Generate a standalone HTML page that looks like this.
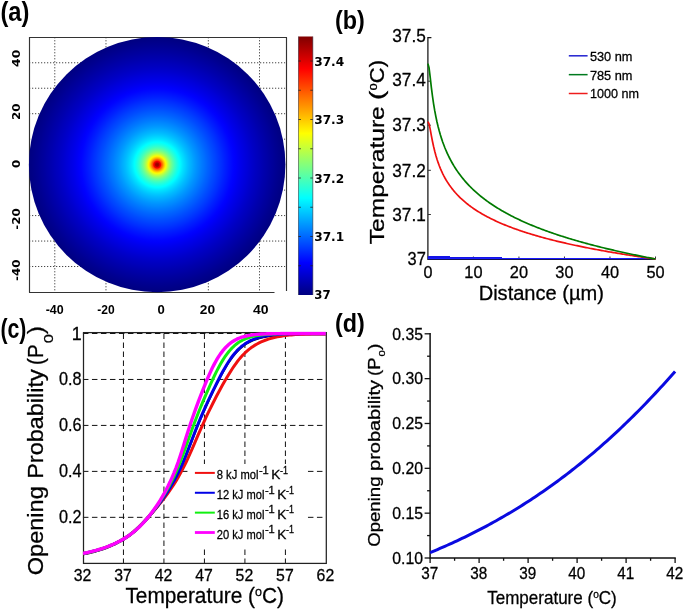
<!DOCTYPE html>
<html lang="en"><head><meta charset="utf-8"><title>Figure</title>
<style>html,body{margin:0;padding:0;background:#fff;}body{width:685px;height:610px;overflow:hidden;font-family:"Liberation Sans", sans-serif;}svg{display:block;}text{stroke:#000;stroke-width:.28px;}text[font-weight=bold]{stroke-width:0;}</style>
</head><body>
<svg width="685" height="610" viewBox="0 0 685 610" font-family='"Liberation Sans", sans-serif'>
<rect width="685" height="610" fill="#fff"/>
<defs><radialGradient id="hg" cx="50%" cy="50%" r="50%">
<stop offset="0.000%" stop-color="#930000"/>
<stop offset="0.005%" stop-color="#930000"/>
<stop offset="0.023%" stop-color="#930000"/>
<stop offset="0.056%" stop-color="#930000"/>
<stop offset="0.106%" stop-color="#930000"/>
<stop offset="0.173%" stop-color="#940000"/>
<stop offset="0.259%" stop-color="#960000"/>
<stop offset="0.363%" stop-color="#980000"/>
<stop offset="0.487%" stop-color="#9a0000"/>
<stop offset="0.631%" stop-color="#9e0000"/>
<stop offset="0.796%" stop-color="#a20000"/>
<stop offset="0.981%" stop-color="#a50000"/>
<stop offset="1.188%" stop-color="#a60000"/>
<stop offset="1.417%" stop-color="#af0000"/>
<stop offset="1.668%" stop-color="#c30000"/>
<stop offset="1.941%" stop-color="#da0000"/>
<stop offset="2.237%" stop-color="#ea0000"/>
<stop offset="2.557%" stop-color="#f20000"/>
<stop offset="2.899%" stop-color="#ff1300"/>
<stop offset="3.265%" stop-color="#ff3b00"/>
<stop offset="3.655%" stop-color="#ff5d00"/>
<stop offset="4.070%" stop-color="#ff6c00"/>
<stop offset="4.508%" stop-color="#ff8b00"/>
<stop offset="4.971%" stop-color="#ffa800"/>
<stop offset="5.459%" stop-color="#ffc300"/>
<stop offset="5.972%" stop-color="#ffdc00"/>
<stop offset="6.510%" stop-color="#fff400"/>
<stop offset="7.074%" stop-color="#f1ff0e"/>
<stop offset="7.663%" stop-color="#d9ff26"/>
<stop offset="8.278%" stop-color="#c3ff3c"/>
<stop offset="8.919%" stop-color="#adff52"/>
<stop offset="9.587%" stop-color="#99ff66"/>
<stop offset="10.280%" stop-color="#86ff79"/>
<stop offset="11.000%" stop-color="#74ff8b"/>
<stop offset="11.747%" stop-color="#63ff9c"/>
<stop offset="12.520%" stop-color="#53ffac"/>
<stop offset="13.321%" stop-color="#43ffbc"/>
<stop offset="14.148%" stop-color="#34ffcb"/>
<stop offset="15.003%" stop-color="#26ffd9"/>
<stop offset="15.886%" stop-color="#18ffe7"/>
<stop offset="16.796%" stop-color="#0cfff3"/>
<stop offset="17.733%" stop-color="#00ffff"/>
<stop offset="18.699%" stop-color="#00f4ff"/>
<stop offset="19.692%" stop-color="#00e8ff"/>
<stop offset="20.714%" stop-color="#00deff"/>
<stop offset="21.764%" stop-color="#00d5ff"/>
<stop offset="22.842%" stop-color="#00cbff"/>
<stop offset="23.949%" stop-color="#00c2ff"/>
<stop offset="25.084%" stop-color="#00b9ff"/>
<stop offset="26.248%" stop-color="#00b1ff"/>
<stop offset="27.441%" stop-color="#00a9ff"/>
<stop offset="28.663%" stop-color="#00a0ff"/>
<stop offset="29.914%" stop-color="#0098ff"/>
<stop offset="31.194%" stop-color="#0090ff"/>
<stop offset="32.504%" stop-color="#0089ff"/>
<stop offset="33.843%" stop-color="#0081ff"/>
<stop offset="35.211%" stop-color="#0079ff"/>
<stop offset="36.609%" stop-color="#0072ff"/>
<stop offset="38.037%" stop-color="#006aff"/>
<stop offset="39.495%" stop-color="#0062ff"/>
<stop offset="40.983%" stop-color="#005bff"/>
<stop offset="42.500%" stop-color="#0053ff"/>
<stop offset="44.048%" stop-color="#004bff"/>
<stop offset="45.626%" stop-color="#0044ff"/>
<stop offset="47.235%" stop-color="#003cff"/>
<stop offset="48.874%" stop-color="#0034ff"/>
<stop offset="50.543%" stop-color="#002cff"/>
<stop offset="52.243%" stop-color="#0023ff"/>
<stop offset="53.974%" stop-color="#001bff"/>
<stop offset="55.736%" stop-color="#0013ff"/>
<stop offset="57.528%" stop-color="#000bff"/>
<stop offset="59.352%" stop-color="#0003ff"/>
<stop offset="61.207%" stop-color="#0000fb"/>
<stop offset="63.092%" stop-color="#0000f3"/>
<stop offset="65.009%" stop-color="#0000eb"/>
<stop offset="66.958%" stop-color="#0000e4"/>
<stop offset="68.938%" stop-color="#0000dd"/>
<stop offset="70.949%" stop-color="#0000d6"/>
<stop offset="72.992%" stop-color="#0000ce"/>
<stop offset="75.066%" stop-color="#0000c7"/>
<stop offset="77.173%" stop-color="#0000c0"/>
<stop offset="79.311%" stop-color="#0000ba"/>
<stop offset="81.481%" stop-color="#0000b3"/>
<stop offset="83.683%" stop-color="#0000ac"/>
<stop offset="85.917%" stop-color="#0000a6"/>
<stop offset="88.184%" stop-color="#00009f"/>
<stop offset="90.482%" stop-color="#000099"/>
<stop offset="92.813%" stop-color="#000092"/>
<stop offset="95.176%" stop-color="#00008c"/>
<stop offset="97.572%" stop-color="#000086"/>
<stop offset="100.000%" stop-color="#000080"/>
</radialGradient>
<linearGradient id="cb" x1="0" y1="1" x2="0" y2="0">
<stop offset="0.00%" stop-color="#000080"/>
<stop offset="1.56%" stop-color="#00008f"/>
<stop offset="3.12%" stop-color="#00009f"/>
<stop offset="4.69%" stop-color="#0000af"/>
<stop offset="6.25%" stop-color="#0000bf"/>
<stop offset="7.81%" stop-color="#0000cf"/>
<stop offset="9.38%" stop-color="#0000df"/>
<stop offset="10.94%" stop-color="#0000ef"/>
<stop offset="12.50%" stop-color="#0000ff"/>
<stop offset="14.06%" stop-color="#0010ff"/>
<stop offset="15.62%" stop-color="#0020ff"/>
<stop offset="17.19%" stop-color="#0030ff"/>
<stop offset="18.75%" stop-color="#0040ff"/>
<stop offset="20.31%" stop-color="#0050ff"/>
<stop offset="21.88%" stop-color="#0060ff"/>
<stop offset="23.44%" stop-color="#0070ff"/>
<stop offset="25.00%" stop-color="#0080ff"/>
<stop offset="26.56%" stop-color="#008fff"/>
<stop offset="28.12%" stop-color="#009fff"/>
<stop offset="29.69%" stop-color="#00afff"/>
<stop offset="31.25%" stop-color="#00bfff"/>
<stop offset="32.81%" stop-color="#00cfff"/>
<stop offset="34.38%" stop-color="#00dfff"/>
<stop offset="35.94%" stop-color="#00efff"/>
<stop offset="37.50%" stop-color="#00ffff"/>
<stop offset="39.06%" stop-color="#10ffef"/>
<stop offset="40.62%" stop-color="#20ffdf"/>
<stop offset="42.19%" stop-color="#30ffcf"/>
<stop offset="43.75%" stop-color="#40ffbf"/>
<stop offset="45.31%" stop-color="#50ffaf"/>
<stop offset="46.88%" stop-color="#60ff9f"/>
<stop offset="48.44%" stop-color="#70ff8f"/>
<stop offset="50.00%" stop-color="#80ff80"/>
<stop offset="51.56%" stop-color="#8fff70"/>
<stop offset="53.12%" stop-color="#9fff60"/>
<stop offset="54.69%" stop-color="#afff50"/>
<stop offset="56.25%" stop-color="#bfff40"/>
<stop offset="57.81%" stop-color="#cfff30"/>
<stop offset="59.38%" stop-color="#dfff20"/>
<stop offset="60.94%" stop-color="#efff10"/>
<stop offset="62.50%" stop-color="#ffff00"/>
<stop offset="64.06%" stop-color="#ffef00"/>
<stop offset="65.62%" stop-color="#ffdf00"/>
<stop offset="67.19%" stop-color="#ffcf00"/>
<stop offset="68.75%" stop-color="#ffbf00"/>
<stop offset="70.31%" stop-color="#ffaf00"/>
<stop offset="71.88%" stop-color="#ff9f00"/>
<stop offset="73.44%" stop-color="#ff8f00"/>
<stop offset="75.00%" stop-color="#ff8000"/>
<stop offset="76.56%" stop-color="#ff7000"/>
<stop offset="78.12%" stop-color="#ff6000"/>
<stop offset="79.69%" stop-color="#ff5000"/>
<stop offset="81.25%" stop-color="#ff4000"/>
<stop offset="82.81%" stop-color="#ff3000"/>
<stop offset="84.38%" stop-color="#ff2000"/>
<stop offset="85.94%" stop-color="#ff1000"/>
<stop offset="87.50%" stop-color="#ff0000"/>
<stop offset="89.06%" stop-color="#ef0000"/>
<stop offset="90.62%" stop-color="#df0000"/>
<stop offset="92.19%" stop-color="#cf0000"/>
<stop offset="93.75%" stop-color="#bf0000"/>
<stop offset="95.31%" stop-color="#af0000"/>
<stop offset="96.88%" stop-color="#9f0000"/>
<stop offset="98.44%" stop-color="#8f0000"/>
<stop offset="100.00%" stop-color="#800000"/>
</linearGradient></defs>
<line x1="54.79" y1="37.3" x2="54.79" y2="292.0" stroke="#1a1a1a" stroke-width="1" stroke-dasharray="1 2"/>
<line x1="105.97" y1="37.3" x2="105.97" y2="292.0" stroke="#1a1a1a" stroke-width="1" stroke-dasharray="1 2"/>
<line x1="157.15" y1="37.3" x2="157.15" y2="292.0" stroke="#1a1a1a" stroke-width="1" stroke-dasharray="1 2"/>
<line x1="208.33" y1="37.3" x2="208.33" y2="292.0" stroke="#1a1a1a" stroke-width="1" stroke-dasharray="1 2"/>
<line x1="259.51" y1="37.3" x2="259.51" y2="292.0" stroke="#1a1a1a" stroke-width="1" stroke-dasharray="1 2"/>
<line x1="29.2" y1="266.53" x2="285.1" y2="266.53" stroke="#1a1a1a" stroke-width="1" stroke-dasharray="1 2"/>
<line x1="29.2" y1="241.06" x2="285.1" y2="241.06" stroke="#1a1a1a" stroke-width="1" stroke-dasharray="1 2"/>
<line x1="29.2" y1="215.59" x2="285.1" y2="215.59" stroke="#1a1a1a" stroke-width="1" stroke-dasharray="1 2"/>
<line x1="29.2" y1="190.12" x2="285.1" y2="190.12" stroke="#1a1a1a" stroke-width="1" stroke-dasharray="1 2"/>
<line x1="29.2" y1="164.65" x2="285.1" y2="164.65" stroke="#1a1a1a" stroke-width="1" stroke-dasharray="1 2"/>
<line x1="29.2" y1="139.18" x2="285.1" y2="139.18" stroke="#1a1a1a" stroke-width="1" stroke-dasharray="1 2"/>
<line x1="29.2" y1="113.71" x2="285.1" y2="113.71" stroke="#1a1a1a" stroke-width="1" stroke-dasharray="1 2"/>
<line x1="29.2" y1="88.24" x2="285.1" y2="88.24" stroke="#1a1a1a" stroke-width="1" stroke-dasharray="1 2"/>
<line x1="29.2" y1="62.77" x2="285.1" y2="62.77" stroke="#1a1a1a" stroke-width="1" stroke-dasharray="1 2"/>
<path d="M29.5 292.5 V37.5 H287" fill="none" stroke="#333" stroke-width="1.15"/>
<line x1="286.5" y1="37.5" x2="286.5" y2="291" stroke="#333" stroke-width="1.15"/>
<line x1="29" y1="292.5" x2="274.5" y2="292.5" stroke="#333" stroke-width="1.15"/>
<ellipse cx="157.15" cy="164.65" rx="128.25" ry="127.65" fill="url(#hg)"/>
<text x="54.70" y="313.60" font-size="13.5" text-anchor="middle" font-weight="bold" fill="#000" textLength="18.00" lengthAdjust="spacingAndGlyphs" >-40</text>
<text x="105.90" y="313.60" font-size="13.5" text-anchor="middle" font-weight="bold" fill="#000" textLength="17.40" lengthAdjust="spacingAndGlyphs" >-20</text>
<text x="161.10" y="313.60" font-size="13.5" text-anchor="middle" font-weight="bold" fill="#000" textLength="7.30" lengthAdjust="spacingAndGlyphs" >0</text>
<text x="207.40" y="313.60" font-size="13.5" text-anchor="middle" font-weight="bold" fill="#000" textLength="15.30" lengthAdjust="spacingAndGlyphs" >20</text>
<text x="260.70" y="313.60" font-size="13.5" text-anchor="middle" font-weight="bold" fill="#000" textLength="15.60" lengthAdjust="spacingAndGlyphs" >40</text>
<text x="19.60" y="58.20" font-size="10.4" text-anchor="middle" font-weight="bold" fill="#000" textLength="17.40" lengthAdjust="spacingAndGlyphs" transform="rotate(-90 19.60 58.20)" font-family='"DejaVu Sans", "Liberation Sans", sans-serif'>40</text>
<text x="19.60" y="111.70" font-size="10.4" text-anchor="middle" font-weight="bold" fill="#000" textLength="16.60" lengthAdjust="spacingAndGlyphs" transform="rotate(-90 19.60 111.70)" font-family='"DejaVu Sans", "Liberation Sans", sans-serif'>20</text>
<text x="19.60" y="164.00" font-size="10.4" text-anchor="middle" font-weight="bold" fill="#000" textLength="8.20" lengthAdjust="spacingAndGlyphs" transform="rotate(-90 19.60 164.00)" font-family='"DejaVu Sans", "Liberation Sans", sans-serif'>0</text>
<text x="19.60" y="219.00" font-size="10.4" text-anchor="middle" font-weight="bold" fill="#000" textLength="21.40" lengthAdjust="spacingAndGlyphs" transform="rotate(-90 19.60 219.00)" font-family='"DejaVu Sans", "Liberation Sans", sans-serif'>-20</text>
<text x="19.60" y="270.30" font-size="10.4" text-anchor="middle" font-weight="bold" fill="#000" textLength="21.40" lengthAdjust="spacingAndGlyphs" transform="rotate(-90 19.60 270.30)" font-family='"DejaVu Sans", "Liberation Sans", sans-serif'>-40</text>
<rect x="298.4" y="36.5" width="14.40" height="258.50" fill="url(#cb)"/>
<line x1="298.4" y1="36.5" x2="298.4" y2="295.0" stroke="#223" stroke-width="0.8" opacity="0.7"/>
<line x1="312.8" y1="36.5" x2="312.8" y2="295.0" stroke="#223" stroke-width="0.8" opacity="0.7"/>
<line x1="298.4" y1="265.75" x2="300.9" y2="265.75" stroke="#222" stroke-width="0.8"/>
<line x1="310.3" y1="265.75" x2="312.8" y2="265.75" stroke="#222" stroke-width="0.8"/>
<line x1="298.4" y1="236.50" x2="300.9" y2="236.50" stroke="#222" stroke-width="0.8"/>
<line x1="310.3" y1="236.50" x2="312.8" y2="236.50" stroke="#222" stroke-width="0.8"/>
<line x1="298.4" y1="207.25" x2="300.9" y2="207.25" stroke="#222" stroke-width="0.8"/>
<line x1="310.3" y1="207.25" x2="312.8" y2="207.25" stroke="#222" stroke-width="0.8"/>
<line x1="298.4" y1="178.00" x2="300.9" y2="178.00" stroke="#222" stroke-width="0.8"/>
<line x1="310.3" y1="178.00" x2="312.8" y2="178.00" stroke="#222" stroke-width="0.8"/>
<line x1="298.4" y1="148.75" x2="300.9" y2="148.75" stroke="#222" stroke-width="0.8"/>
<line x1="310.3" y1="148.75" x2="312.8" y2="148.75" stroke="#222" stroke-width="0.8"/>
<line x1="298.4" y1="119.50" x2="300.9" y2="119.50" stroke="#222" stroke-width="0.8"/>
<line x1="310.3" y1="119.50" x2="312.8" y2="119.50" stroke="#222" stroke-width="0.8"/>
<line x1="298.4" y1="90.25" x2="300.9" y2="90.25" stroke="#222" stroke-width="0.8"/>
<line x1="310.3" y1="90.25" x2="312.8" y2="90.25" stroke="#222" stroke-width="0.8"/>
<line x1="298.4" y1="61.00" x2="300.9" y2="61.00" stroke="#222" stroke-width="0.8"/>
<line x1="310.3" y1="61.00" x2="312.8" y2="61.00" stroke="#222" stroke-width="0.8"/>
<text x="314.20" y="298.60" font-size="12" text-anchor="start" font-weight="bold" fill="#000" textLength="16.40" lengthAdjust="spacingAndGlyphs" font-family='"DejaVu Sans", "Liberation Sans", sans-serif'>37</text>
<text x="314.20" y="241.40" font-size="12" text-anchor="start" font-weight="bold" fill="#000" textLength="30.00" lengthAdjust="spacingAndGlyphs" font-family='"DejaVu Sans", "Liberation Sans", sans-serif'>37.1</text>
<text x="314.20" y="182.90" font-size="12" text-anchor="start" font-weight="bold" fill="#000" textLength="30.00" lengthAdjust="spacingAndGlyphs" font-family='"DejaVu Sans", "Liberation Sans", sans-serif'>37.2</text>
<text x="314.20" y="124.40" font-size="12" text-anchor="start" font-weight="bold" fill="#000" textLength="30.00" lengthAdjust="spacingAndGlyphs" font-family='"DejaVu Sans", "Liberation Sans", sans-serif'>37.3</text>
<text x="314.20" y="65.90" font-size="12" text-anchor="start" font-weight="bold" fill="#000" textLength="30.00" lengthAdjust="spacingAndGlyphs" font-family='"DejaVu Sans", "Liberation Sans", sans-serif'>37.4</text>
<text x="0.40" y="21.30" font-size="27.3" text-anchor="start" font-weight="bold" fill="#000" textLength="29.00" lengthAdjust="spacingAndGlyphs" >(a)</text>
<path d="M431.4 37.5 H427.9 V259.3 H655.5" fill="none" stroke="#151515" stroke-width="1.25"/>
<line x1="427.9" y1="214.5" x2="430.9" y2="214.5" stroke="#333" stroke-width="1"/>
<line x1="427.9" y1="170.3" x2="430.9" y2="170.3" stroke="#333" stroke-width="1"/>
<line x1="427.9" y1="125.2" x2="430.9" y2="125.2" stroke="#333" stroke-width="1"/>
<line x1="427.9" y1="81.2" x2="430.9" y2="81.2" stroke="#333" stroke-width="1"/>
<line x1="473.42" y1="259.0" x2="473.42" y2="256.5" stroke="#333" stroke-width="1"/>
<line x1="518.94" y1="259.0" x2="518.94" y2="256.5" stroke="#333" stroke-width="1"/>
<line x1="564.46" y1="259.0" x2="564.46" y2="256.5" stroke="#333" stroke-width="1"/>
<line x1="609.98" y1="259.0" x2="609.98" y2="256.5" stroke="#333" stroke-width="1"/>
<line x1="655.50" y1="259.0" x2="655.50" y2="256.5" stroke="#333" stroke-width="1"/>
<path d="M427.9 257.1 H450" stroke="#1414e6" stroke-width="2.2" fill="none"/>
<path d="M427.9 257.8 H502" stroke="#1414e6" stroke-width="1.8" fill="none"/>
<path d="M427.9 258.6 H655.5" stroke="#1a1aff" stroke-width="1.4" fill="none"/>
<path d="M427.90 121.61 L429.04 123.83 L430.18 129.15 L431.31 135.32 L432.45 141.22 L433.59 146.53 L434.73 151.26 L435.87 155.48 L437.00 159.25 L438.14 162.65 L439.28 165.75 L440.42 168.59 L441.56 171.20 L442.69 173.62 L443.83 175.87 L444.97 177.98 L446.11 179.96 L447.25 181.82 L448.38 183.58 L449.52 185.25 L450.66 186.84 L451.80 188.35 L452.94 189.79 L454.07 191.17 L455.21 192.50 L456.35 193.77 L457.49 194.99 L458.63 196.17 L459.76 197.30 L460.90 198.40 L462.04 199.45 L463.18 200.48 L464.32 201.47 L465.45 202.43 L466.59 203.37 L467.73 204.27 L468.87 205.16 L470.01 206.01 L471.14 206.85 L472.28 207.66 L473.42 208.45 L474.56 209.23 L475.70 209.98 L476.83 210.72 L477.97 211.44 L479.11 212.15 L480.25 212.83 L481.39 213.51 L482.52 214.17 L483.66 214.82 L484.80 215.45 L485.94 216.07 L487.08 216.68 L488.21 217.28 L489.35 217.86 L490.49 218.44 L491.63 219.00 L492.77 219.56 L493.90 220.11 L495.04 220.64 L496.18 221.17 L497.32 221.69 L498.46 222.20 L499.59 222.70 L500.73 223.20 L501.87 223.68 L503.01 224.16 L504.15 224.63 L505.28 225.10 L506.42 225.56 L507.56 226.01 L508.70 226.46 L509.84 226.89 L510.97 227.33 L512.11 227.76 L513.25 228.18 L514.39 228.59 L515.53 229.00 L516.66 229.41 L517.80 229.81 L518.94 230.20 L520.08 230.59 L521.22 230.98 L522.35 231.36 L523.49 231.74 L524.63 232.11 L525.77 232.48 L526.91 232.84 L528.04 233.20 L529.18 233.55 L530.32 233.90 L531.46 234.25 L532.60 234.59 L533.73 234.93 L534.87 235.27 L536.01 235.60 L537.15 235.93 L538.29 236.26 L539.42 236.58 L540.56 236.90 L541.70 237.21 L542.84 237.53 L543.98 237.84 L545.11 238.14 L546.25 238.45 L547.39 238.75 L548.53 239.05 L549.67 239.34 L550.80 239.63 L551.94 239.92 L553.08 240.21 L554.22 240.49 L555.36 240.78 L556.49 241.06 L557.63 241.33 L558.77 241.61 L559.91 241.88 L561.05 242.15 L562.18 242.42 L563.32 242.68 L564.46 242.94 L565.60 243.20 L566.74 243.46 L567.87 243.72 L569.01 243.97 L570.15 244.23 L571.29 244.48 L572.43 244.73 L573.56 244.97 L574.70 245.22 L575.84 245.46 L576.98 245.70 L578.12 245.94 L579.25 246.18 L580.39 246.41 L581.53 246.65 L582.67 246.88 L583.81 247.11 L584.94 247.34 L586.08 247.56 L587.22 247.79 L588.36 248.01 L589.50 248.23 L590.63 248.46 L591.77 248.67 L592.91 248.89 L594.05 249.11 L595.19 249.32 L596.32 249.54 L597.46 249.75 L598.60 249.96 L599.74 250.17 L600.88 250.37 L602.01 250.58 L603.15 250.78 L604.29 250.99 L605.43 251.19 L606.57 251.39 L607.70 251.59 L608.84 251.79 L609.98 251.99 L611.12 252.18 L612.26 252.38 L613.39 252.57 L614.53 252.76 L615.67 252.95 L616.81 253.14 L617.95 253.33 L619.08 253.52 L620.22 253.71 L621.36 253.89 L622.50 254.08 L623.64 254.26 L624.77 254.44 L625.91 254.62 L627.05 254.80 L628.19 254.98 L629.33 255.16 L630.46 255.34 L631.60 255.51 L632.74 255.69 L633.88 255.86 L635.02 256.04 L636.15 256.21 L637.29 256.38 L638.43 256.55 L639.57 256.72 L640.71 256.89 L641.84 257.05 L642.98 257.22 L644.12 257.39 L645.26 257.55 L646.40 257.72 L647.53 257.88 L648.67 258.04 L649.81 258.20 L650.95 258.36 L652.09 258.52 L653.22 258.68 L654.36 258.84 L655.50 259.00" stroke="#f01010" stroke-width="1.7" fill="none" stroke-linejoin="round"/>
<path d="M427.90 63.60 L429.04 67.80 L430.18 77.10 L431.31 87.03 L432.45 96.01 L433.59 103.84 L434.73 110.66 L435.87 116.65 L437.00 121.97 L438.14 126.74 L439.28 131.06 L440.42 135.00 L441.56 138.62 L442.69 141.97 L443.83 145.08 L444.97 147.99 L446.11 150.72 L447.25 153.28 L448.38 155.71 L449.52 158.00 L450.66 160.18 L451.80 162.26 L452.94 164.24 L454.07 166.14 L455.21 167.96 L456.35 169.70 L457.49 171.38 L458.63 172.99 L459.76 174.54 L460.90 176.05 L462.04 177.50 L463.18 178.90 L464.32 180.26 L465.45 181.58 L466.59 182.86 L467.73 184.10 L468.87 185.31 L470.01 186.48 L471.14 187.63 L472.28 188.74 L473.42 189.83 L474.56 190.89 L475.70 191.92 L476.83 192.93 L477.97 193.92 L479.11 194.88 L480.25 195.82 L481.39 196.75 L482.52 197.65 L483.66 198.54 L484.80 199.40 L485.94 200.26 L487.08 201.09 L488.21 201.91 L489.35 202.71 L490.49 203.50 L491.63 204.27 L492.77 205.03 L493.90 205.78 L495.04 206.51 L496.18 207.24 L497.32 207.95 L498.46 208.65 L499.59 209.33 L500.73 210.01 L501.87 210.68 L503.01 211.33 L504.15 211.98 L505.28 212.61 L506.42 213.24 L507.56 213.86 L508.70 214.47 L509.84 215.07 L510.97 215.66 L512.11 216.25 L513.25 216.83 L514.39 217.39 L515.53 217.96 L516.66 218.51 L517.80 219.06 L518.94 219.60 L520.08 220.13 L521.22 220.66 L522.35 221.18 L523.49 221.70 L524.63 222.21 L525.77 222.71 L526.91 223.21 L528.04 223.70 L529.18 224.18 L530.32 224.66 L531.46 225.14 L532.60 225.61 L533.73 226.07 L534.87 226.53 L536.01 226.99 L537.15 227.44 L538.29 227.88 L539.42 228.32 L540.56 228.76 L541.70 229.19 L542.84 229.62 L543.98 230.04 L545.11 230.46 L546.25 230.88 L547.39 231.29 L548.53 231.70 L549.67 232.10 L550.80 232.50 L551.94 232.90 L553.08 233.29 L554.22 233.68 L555.36 234.07 L556.49 234.45 L557.63 234.83 L558.77 235.20 L559.91 235.57 L561.05 235.94 L562.18 236.31 L563.32 236.67 L564.46 237.03 L565.60 237.39 L566.74 237.74 L567.87 238.09 L569.01 238.44 L570.15 238.79 L571.29 239.13 L572.43 239.47 L573.56 239.81 L574.70 240.14 L575.84 240.47 L576.98 240.80 L578.12 241.13 L579.25 241.46 L580.39 241.78 L581.53 242.10 L582.67 242.41 L583.81 242.73 L584.94 243.04 L586.08 243.35 L587.22 243.66 L588.36 243.97 L589.50 244.27 L590.63 244.57 L591.77 244.87 L592.91 245.17 L594.05 245.47 L595.19 245.76 L596.32 246.05 L597.46 246.34 L598.60 246.63 L599.74 246.91 L600.88 247.20 L602.01 247.48 L603.15 247.76 L604.29 248.04 L605.43 248.31 L606.57 248.59 L607.70 248.86 L608.84 249.13 L609.98 249.40 L611.12 249.67 L612.26 249.94 L613.39 250.20 L614.53 250.47 L615.67 250.73 L616.81 250.99 L617.95 251.24 L619.08 251.50 L620.22 251.76 L621.36 252.01 L622.50 252.26 L623.64 252.51 L624.77 252.76 L625.91 253.01 L627.05 253.26 L628.19 253.50 L629.33 253.75 L630.46 253.99 L631.60 254.23 L632.74 254.47 L633.88 254.71 L635.02 254.94 L636.15 255.18 L637.29 255.41 L638.43 255.65 L639.57 255.88 L640.71 256.11 L641.84 256.34 L642.98 256.57 L644.12 256.79 L645.26 257.02 L646.40 257.24 L647.53 257.47 L648.67 257.69 L649.81 257.91 L650.95 258.13 L652.09 258.35 L653.22 258.57 L654.36 258.78 L655.50 259.00" stroke="#007a00" stroke-width="1.7" fill="none" stroke-linejoin="round"/>
<text x="425.80" y="265.05" font-size="17.6" text-anchor="end" font-weight="normal" fill="#000" textLength="18.30" lengthAdjust="spacingAndGlyphs" >37</text>
<text x="425.80" y="220.75" font-size="17.6" text-anchor="end" font-weight="normal" fill="#000" textLength="33.50" lengthAdjust="spacingAndGlyphs" >37.1</text>
<text x="425.80" y="176.55" font-size="17.6" text-anchor="end" font-weight="normal" fill="#000" textLength="33.50" lengthAdjust="spacingAndGlyphs" >37.2</text>
<text x="425.80" y="131.25" font-size="17.6" text-anchor="end" font-weight="normal" fill="#000" textLength="33.50" lengthAdjust="spacingAndGlyphs" >37.3</text>
<text x="425.80" y="86.45" font-size="17.6" text-anchor="end" font-weight="normal" fill="#000" textLength="33.50" lengthAdjust="spacingAndGlyphs" >37.4</text>
<text x="425.80" y="42.25" font-size="17.6" text-anchor="end" font-weight="normal" fill="#000" textLength="33.50" lengthAdjust="spacingAndGlyphs" >37.5</text>
<text x="427.90" y="277.70" font-size="16.8" text-anchor="middle" font-weight="normal" fill="#000" textLength="9.00" lengthAdjust="spacingAndGlyphs" >0</text>
<text x="473.42" y="277.70" font-size="16.8" text-anchor="middle" font-weight="normal" fill="#000" textLength="18.20" lengthAdjust="spacingAndGlyphs" >10</text>
<text x="518.94" y="277.70" font-size="16.8" text-anchor="middle" font-weight="normal" fill="#000" textLength="18.20" lengthAdjust="spacingAndGlyphs" >20</text>
<text x="564.46" y="277.70" font-size="16.8" text-anchor="middle" font-weight="normal" fill="#000" textLength="18.20" lengthAdjust="spacingAndGlyphs" >30</text>
<text x="609.98" y="277.70" font-size="16.8" text-anchor="middle" font-weight="normal" fill="#000" textLength="18.20" lengthAdjust="spacingAndGlyphs" >40</text>
<text x="655.50" y="277.70" font-size="16.8" text-anchor="middle" font-weight="normal" fill="#000" textLength="18.20" lengthAdjust="spacingAndGlyphs" >50</text>
<text x="541.30" y="300.20" font-size="20" text-anchor="middle" font-weight="normal" fill="#000" textLength="125.30" lengthAdjust="spacingAndGlyphs" >Distance (µm)</text>
<text transform="translate(383.90,0) rotate(-90)" font-size="19.7" font-weight="normal" ><tspan x="-244.30" y="0" textLength="138.10" lengthAdjust="spacingAndGlyphs">Temperature</tspan><tspan x="-100.00" y="0" textLength="9.40" lengthAdjust="spacingAndGlyphs">(</tspan><tspan x="-90.60" y="-7.3" font-size="12.5" textLength="7.20" lengthAdjust="spacingAndGlyphs">o</tspan><tspan x="-83.20" y="0" textLength="23.20" lengthAdjust="spacingAndGlyphs">C)</tspan></text>
<line x1="568.8" y1="55.80" x2="587.6" y2="55.80" stroke="#2222d0" stroke-width="1.5"/>
<text x="589.90" y="60.70" font-size="13.4" text-anchor="start" font-weight="normal" fill="#000" textLength="42.60" lengthAdjust="spacingAndGlyphs" >530 nm</text>
<line x1="568.8" y1="74.65" x2="587.6" y2="74.65" stroke="#007a1e" stroke-width="1.5"/>
<text x="589.90" y="79.55" font-size="13.4" text-anchor="start" font-weight="normal" fill="#000" textLength="42.60" lengthAdjust="spacingAndGlyphs" >785 nm</text>
<line x1="568.8" y1="93.50" x2="587.6" y2="93.50" stroke="#ee1c1c" stroke-width="1.5"/>
<text x="589.90" y="98.40" font-size="13.4" text-anchor="start" font-weight="normal" fill="#000" textLength="49.00" lengthAdjust="spacingAndGlyphs" >1000 nm</text>
<text x="334.90" y="28.60" font-size="26.5" text-anchor="start" font-weight="bold" fill="#000" textLength="29.80" lengthAdjust="spacingAndGlyphs" >(b)</text>
<line x1="123.44" y1="333.5" x2="123.44" y2="563.3" stroke="#111" stroke-width="1" stroke-dasharray="5.5 3.5"/>
<line x1="163.93" y1="333.5" x2="163.93" y2="563.3" stroke="#111" stroke-width="1" stroke-dasharray="5.5 3.5"/>
<line x1="204.43" y1="333.5" x2="204.43" y2="563.3" stroke="#111" stroke-width="1" stroke-dasharray="5.5 3.5"/>
<line x1="244.92" y1="333.5" x2="244.92" y2="563.3" stroke="#111" stroke-width="1" stroke-dasharray="5.5 3.5"/>
<line x1="285.41" y1="333.5" x2="285.41" y2="563.3" stroke="#111" stroke-width="1" stroke-dasharray="5.5 3.5"/>
<line x1="82.95" y1="517.34" x2="325.9" y2="517.34" stroke="#111" stroke-width="1" stroke-dasharray="5.5 3.5"/>
<line x1="82.95" y1="471.38" x2="325.9" y2="471.38" stroke="#111" stroke-width="1" stroke-dasharray="5.5 3.5"/>
<line x1="82.95" y1="425.42" x2="325.9" y2="425.42" stroke="#111" stroke-width="1" stroke-dasharray="5.5 3.5"/>
<line x1="82.95" y1="379.46" x2="325.9" y2="379.46" stroke="#111" stroke-width="1" stroke-dasharray="5.5 3.5"/>
<line x1="82.95" y1="333.50" x2="325.9" y2="333.50" stroke="#111" stroke-width="1" stroke-dasharray="5.5 3.5"/>
<rect x="83.5" y="332.6" width="242.80" height="230.80" fill="none" stroke="#222" stroke-width="1.25"/>
<rect x="189.6" y="464" width="118" height="84" fill="#fff"/>
<clipPath id="cc"><rect x="82.95" y="331.5" width="242.95" height="231.80"/></clipPath>
<g clip-path="url(#cc)">
<path d="M82.95 554.38 L84.97 553.98 L87.00 553.56 L89.02 553.11 L91.05 552.63 L93.07 552.13 L95.10 551.59 L97.12 551.02 L99.15 550.42 L101.17 549.78 L103.20 549.10 L105.22 548.38 L107.25 547.63 L109.27 546.82 L111.29 545.98 L113.32 545.08 L115.34 544.13 L117.37 543.13 L119.39 542.08 L121.42 540.97 L123.44 539.80 L125.47 538.55 L127.49 537.21 L129.52 535.77 L131.54 534.23 L133.56 532.60 L135.59 530.86 L137.61 529.02 L139.64 527.09 L141.66 525.07 L143.69 522.96 L145.71 520.77 L147.74 518.50 L149.76 516.17 L151.79 513.79 L153.81 511.34 L155.83 508.84 L157.86 506.25 L159.88 503.59 L161.91 500.82 L163.93 497.95 L165.96 494.96 L167.98 491.84 L170.01 488.58 L172.03 485.15 L174.06 481.56 L176.08 477.78 L178.11 473.80 L180.13 469.60 L182.15 465.08 L184.18 460.29 L186.20 455.29 L188.23 450.12 L190.25 444.85 L192.28 439.54 L194.30 434.27 L196.33 429.09 L198.35 424.05 L200.38 419.19 L202.40 414.47 L204.43 409.88 L206.45 405.40 L208.47 401.02 L210.50 396.72 L212.52 392.50 L214.55 388.35 L216.57 384.27 L218.60 380.27 L220.62 376.36 L222.65 372.57 L224.67 368.95 L226.70 365.51 L228.72 362.29 L230.74 359.29 L232.77 356.53 L234.79 354.01 L236.82 351.72 L238.84 349.65 L240.87 347.80 L242.89 346.15 L244.92 344.69 L246.94 343.40 L248.97 342.25 L250.99 341.24 L253.01 340.34 L255.04 339.55 L257.06 338.86 L259.09 338.25 L261.11 337.72 L263.14 337.25 L265.16 336.84 L267.19 336.49 L269.21 336.18 L271.24 335.91 L273.26 335.68 L275.29 335.47 L277.31 335.30 L279.33 335.15 L281.36 335.02 L283.38 334.91 L285.41 334.81 L287.43 334.73 L289.46 334.66 L291.48 334.60 L293.51 334.55 L295.53 334.51 L297.56 334.48 L299.58 334.45 L301.61 334.42 L303.63 334.40 L305.65 334.38 L307.68 334.37 L309.70 334.36 L311.73 334.35 L313.75 334.34 L315.78 334.33 L317.80 334.32 L319.83 334.32 L321.85 334.32 L323.88 334.31 L325.90 334.31" stroke="#111" stroke-width="2.2" fill="none"/>
<path d="M82.95 553.67 L84.97 553.27 L87.00 552.84 L89.02 552.39 L91.05 551.91 L93.07 551.40 L95.10 550.86 L97.12 550.28 L99.15 549.68 L101.17 549.03 L103.20 548.35 L105.22 547.63 L107.25 546.87 L109.27 546.06 L111.29 545.21 L113.32 544.31 L115.34 543.36 L117.37 542.35 L119.39 541.29 L121.42 540.18 L123.44 539.00 L125.47 537.74 L127.49 536.39 L129.52 534.93 L131.54 533.36 L133.56 531.70 L135.59 529.94 L137.61 528.09 L139.64 526.15 L141.66 524.13 L143.69 522.04 L145.71 519.89 L147.74 517.68 L149.76 515.45 L151.79 513.18 L153.81 510.87 L155.83 508.52 L157.86 506.12 L159.88 503.67 L161.91 501.15 L163.93 498.55 L165.96 495.87 L167.98 493.10 L170.01 490.23 L172.03 487.24 L174.06 484.12 L176.08 480.86 L178.11 477.45 L180.13 473.88 L182.15 470.13 L184.18 466.17 L186.20 461.99 L188.23 457.64 L190.25 453.14 L192.28 448.54 L194.30 443.86 L196.33 439.16 L198.35 434.46 L200.38 429.82 L202.40 425.27 L204.43 420.82 L206.45 416.46 L208.47 412.20 L210.50 408.04 L212.52 403.96 L214.55 399.96 L216.57 396.05 L218.60 392.23 L220.62 388.49 L222.65 384.84 L224.67 381.28 L226.70 377.82 L228.72 374.44 L230.74 371.17 L232.77 368.04 L234.79 365.07 L236.82 362.27 L238.84 359.66 L240.87 357.24 L242.89 355.01 L244.92 352.97 L246.94 351.10 L248.97 349.40 L250.99 347.84 L253.01 346.42 L255.04 345.13 L257.06 343.96 L259.09 342.89 L261.11 341.93 L263.14 341.05 L265.16 340.26 L267.19 339.54 L269.21 338.89 L271.24 338.31 L273.26 337.78 L275.29 337.31 L277.31 336.88 L279.33 336.50 L281.36 336.15 L283.38 335.85 L285.41 335.57 L287.43 335.33 L289.46 335.11 L291.48 334.91 L293.51 334.74 L295.53 334.58 L297.56 334.45 L299.58 334.33 L301.61 334.22 L303.63 334.13 L305.65 334.05 L307.68 333.98 L309.70 333.91 L311.73 333.86 L313.75 333.81 L315.78 333.77 L317.80 333.73 L319.83 333.70 L321.85 333.67 L323.88 333.65 L325.90 333.63" stroke="#f01010" stroke-width="3.0" fill="none" stroke-linejoin="round"/>
<path d="M82.95 553.58 L84.97 553.18 L87.00 552.76 L89.02 552.31 L91.05 551.83 L93.07 551.33 L95.10 550.79 L97.12 550.22 L99.15 549.62 L101.17 548.98 L103.20 548.30 L105.22 547.58 L107.25 546.83 L109.27 546.02 L111.29 545.18 L113.32 544.28 L115.34 543.33 L117.37 542.33 L119.39 541.28 L121.42 540.17 L123.44 539.00 L125.47 537.75 L127.49 536.41 L129.52 534.97 L131.54 533.43 L133.56 531.80 L135.59 530.06 L137.61 528.22 L139.64 526.29 L141.66 524.27 L143.69 522.16 L145.71 519.97 L147.74 517.70 L149.76 515.37 L151.79 512.99 L153.81 510.54 L155.83 508.04 L157.86 505.45 L159.88 502.79 L161.91 500.02 L163.93 497.15 L165.96 494.16 L167.98 491.04 L170.01 487.78 L172.03 484.35 L174.06 480.76 L176.08 476.98 L178.11 473.00 L180.13 468.80 L182.15 464.28 L184.18 459.49 L186.20 454.49 L188.23 449.32 L190.25 444.05 L192.28 438.74 L194.30 433.47 L196.33 428.29 L198.35 423.25 L200.38 418.39 L202.40 413.67 L204.43 409.08 L206.45 404.60 L208.47 400.22 L210.50 395.92 L212.52 391.70 L214.55 387.55 L216.57 383.47 L218.60 379.47 L220.62 375.56 L222.65 371.77 L224.67 368.15 L226.70 364.71 L228.72 361.49 L230.74 358.49 L232.77 355.73 L234.79 353.21 L236.82 350.92 L238.84 348.85 L240.87 347.00 L242.89 345.35 L244.92 343.89 L246.94 342.60 L248.97 341.45 L250.99 340.44 L253.01 339.54 L255.04 338.75 L257.06 338.06 L259.09 337.45 L261.11 336.92 L263.14 336.45 L265.16 336.04 L267.19 335.69 L269.21 335.38 L271.24 335.11 L273.26 334.88 L275.29 334.67 L277.31 334.50 L279.33 334.35 L281.36 334.22 L283.38 334.11 L285.41 334.01 L287.43 333.93 L289.46 333.86 L291.48 333.80 L293.51 333.75 L295.53 333.71 L297.56 333.68 L299.58 333.65 L301.61 333.62 L303.63 333.60 L305.65 333.58 L307.68 333.57 L309.70 333.56 L311.73 333.55 L313.75 333.54 L315.78 333.53 L317.80 333.52 L319.83 333.52 L321.85 333.52 L323.88 333.51 L325.90 333.51" stroke="#0000e6" stroke-width="3.0" fill="none" stroke-linejoin="round"/>
<path d="M82.95 553.49 L84.97 553.09 L87.00 552.67 L89.02 552.23 L91.05 551.76 L93.07 551.25 L95.10 550.72 L97.12 550.15 L99.15 549.56 L101.17 548.92 L103.20 548.25 L105.22 547.54 L107.25 546.78 L109.27 545.98 L111.29 545.14 L113.32 544.25 L115.34 543.31 L117.37 542.32 L119.39 541.27 L121.42 540.16 L123.44 539.00 L125.47 537.76 L127.49 536.44 L129.52 535.02 L131.54 533.51 L133.56 531.90 L135.59 530.18 L137.61 528.37 L139.64 526.45 L141.66 524.42 L143.69 522.29 L145.71 520.06 L147.74 517.71 L149.76 515.27 L151.79 512.75 L153.81 510.12 L155.83 507.39 L157.86 504.54 L159.88 501.57 L161.91 498.46 L163.93 495.20 L165.96 491.78 L167.98 488.19 L170.01 484.42 L172.03 480.45 L174.06 476.28 L176.08 471.90 L178.11 467.23 L180.13 462.24 L182.15 456.96 L184.18 451.47 L186.20 445.83 L188.23 440.11 L190.25 434.40 L192.28 428.76 L194.30 423.27 L196.33 417.96 L198.35 412.81 L200.38 407.79 L202.40 402.90 L204.43 398.11 L206.45 393.41 L208.47 388.79 L210.50 384.26 L212.52 379.82 L214.55 375.51 L216.57 371.37 L218.60 367.46 L220.62 363.78 L222.65 360.36 L224.67 357.21 L226.70 354.33 L228.72 351.72 L230.74 349.38 L232.77 347.28 L234.79 345.42 L236.82 343.78 L238.84 342.34 L240.87 341.08 L242.89 339.99 L244.92 339.04 L246.94 338.23 L248.97 337.52 L250.99 336.90 L253.01 336.38 L255.04 335.92 L257.06 335.54 L259.09 335.21 L261.11 334.93 L263.14 334.69 L265.16 334.49 L267.19 334.32 L269.21 334.18 L271.24 334.06 L273.26 333.96 L275.29 333.88 L277.31 333.81 L279.33 333.76 L281.36 333.71 L283.38 333.67 L285.41 333.64 L287.43 333.61 L289.46 333.59 L291.48 333.57 L293.51 333.56 L295.53 333.55 L297.56 333.54 L299.58 333.53 L301.61 333.53 L303.63 333.52 L305.65 333.52 L307.68 333.51 L309.70 333.51 L311.73 333.51 L313.75 333.51 L315.78 333.50 L317.80 333.50 L319.83 333.50 L321.85 333.50 L323.88 333.50 L325.90 333.50" stroke="#10f010" stroke-width="3.0" fill="none" stroke-linejoin="round"/>
<path d="M82.95 553.39 L84.97 553.00 L87.00 552.59 L89.02 552.15 L91.05 551.68 L93.07 551.18 L95.10 550.65 L97.12 550.09 L99.15 549.49 L101.17 548.86 L103.20 548.20 L105.22 547.49 L107.25 546.74 L109.27 545.95 L111.29 545.11 L113.32 544.22 L115.34 543.29 L117.37 542.30 L119.39 541.26 L121.42 540.16 L123.44 539.00 L125.47 537.77 L127.49 536.46 L129.52 535.06 L131.54 533.56 L133.56 531.97 L135.59 530.27 L137.61 528.47 L139.64 526.56 L141.66 524.53 L143.69 522.39 L145.71 520.12 L147.74 517.72 L149.76 515.21 L151.79 512.60 L153.81 509.86 L155.83 507.00 L157.86 504.00 L159.88 500.83 L161.91 497.49 L163.93 493.97 L165.96 490.23 L167.98 486.28 L170.01 482.08 L172.03 477.64 L174.06 472.92 L176.08 467.87 L178.11 462.32 L180.13 456.35 L182.15 450.08 L184.18 443.63 L186.20 437.12 L188.23 430.69 L190.25 424.47 L192.28 418.49 L194.30 412.72 L196.33 407.14 L198.35 401.71 L200.38 396.42 L202.40 391.24 L204.43 386.17 L206.45 381.22 L208.47 376.42 L210.50 371.87 L212.52 367.60 L214.55 363.63 L216.57 359.98 L218.60 356.65 L220.62 353.64 L222.65 350.93 L224.67 348.52 L226.70 346.39 L228.72 344.51 L230.74 342.88 L232.77 341.45 L234.79 340.22 L236.82 339.17 L238.84 338.26 L240.87 337.49 L242.89 336.84 L244.92 336.29 L246.94 335.82 L248.97 335.42 L250.99 335.08 L253.01 334.80 L255.04 334.57 L257.06 334.37 L259.09 334.21 L261.11 334.07 L263.14 333.96 L265.16 333.87 L267.19 333.80 L269.21 333.74 L271.24 333.69 L273.26 333.65 L275.29 333.62 L277.31 333.60 L279.33 333.58 L281.36 333.56 L283.38 333.55 L285.41 333.54 L287.43 333.53 L289.46 333.52 L291.48 333.52 L293.51 333.51 L295.53 333.51 L297.56 333.51 L299.58 333.51 L301.61 333.51 L303.63 333.50 L305.65 333.50 L307.68 333.50 L309.70 333.50 L311.73 333.50 L313.75 333.50 L315.78 333.50 L317.80 333.50 L319.83 333.50 L321.85 333.50 L323.88 333.50 L325.90 333.50" stroke="#ff00ff" stroke-width="3.4" fill="none" stroke-linejoin="round"/>
</g>
<line x1="194.9" y1="472.90" x2="214.8" y2="472.90" stroke="#f01010" stroke-width="2.0"/>
<text font-size="13" font-weight="normal" ><tspan x="216.80" y="479.00" textLength="41.60" lengthAdjust="spacingAndGlyphs">8 kJ mol</tspan><tspan x="258.90" y="473.70" font-size="10.5" textLength="9.90" lengthAdjust="spacingAndGlyphs">-1</tspan><tspan x="271.30" y="479.00" textLength="9.10" lengthAdjust="spacingAndGlyphs">K</tspan><tspan x="279.90" y="473.70" font-size="10.5" textLength="8.00" lengthAdjust="spacingAndGlyphs">-1</tspan></text>
<line x1="194.9" y1="492.77" x2="214.8" y2="492.77" stroke="#0000e6" stroke-width="2.0"/>
<text font-size="13" font-weight="normal" ><tspan x="216.80" y="498.87" textLength="47.60" lengthAdjust="spacingAndGlyphs">12 kJ mol</tspan><tspan x="264.90" y="493.57" font-size="10.5" textLength="9.90" lengthAdjust="spacingAndGlyphs">-1</tspan><tspan x="277.30" y="498.87" textLength="9.10" lengthAdjust="spacingAndGlyphs">K</tspan><tspan x="285.90" y="493.57" font-size="10.5" textLength="8.00" lengthAdjust="spacingAndGlyphs">-1</tspan></text>
<line x1="194.9" y1="512.64" x2="214.8" y2="512.64" stroke="#10f010" stroke-width="2.0"/>
<text font-size="13" font-weight="normal" ><tspan x="216.80" y="518.74" textLength="47.60" lengthAdjust="spacingAndGlyphs">16 kJ mol</tspan><tspan x="264.90" y="513.44" font-size="10.5" textLength="9.90" lengthAdjust="spacingAndGlyphs">-1</tspan><tspan x="277.30" y="518.74" textLength="9.10" lengthAdjust="spacingAndGlyphs">K</tspan><tspan x="285.90" y="513.44" font-size="10.5" textLength="8.00" lengthAdjust="spacingAndGlyphs">-1</tspan></text>
<line x1="194.9" y1="532.51" x2="214.8" y2="532.51" stroke="#ff00ff" stroke-width="2.8"/>
<text font-size="13" font-weight="normal" ><tspan x="216.80" y="538.61" textLength="47.60" lengthAdjust="spacingAndGlyphs">20 kJ mol</tspan><tspan x="264.90" y="533.31" font-size="10.5" textLength="9.90" lengthAdjust="spacingAndGlyphs">-1</tspan><tspan x="277.30" y="538.61" textLength="9.10" lengthAdjust="spacingAndGlyphs">K</tspan><tspan x="285.90" y="533.31" font-size="10.5" textLength="8.00" lengthAdjust="spacingAndGlyphs">-1</tspan></text>
<text x="81.50" y="523.14" font-size="17.8" text-anchor="end" font-weight="normal" fill="#000" textLength="22.60" lengthAdjust="spacingAndGlyphs" >0.2</text>
<text x="81.50" y="477.18" font-size="17.8" text-anchor="end" font-weight="normal" fill="#000" textLength="22.60" lengthAdjust="spacingAndGlyphs" >0.4</text>
<text x="81.50" y="431.22" font-size="17.8" text-anchor="end" font-weight="normal" fill="#000" textLength="22.60" lengthAdjust="spacingAndGlyphs" >0.6</text>
<text x="81.50" y="385.26" font-size="17.8" text-anchor="end" font-weight="normal" fill="#000" textLength="22.60" lengthAdjust="spacingAndGlyphs" >0.8</text>
<text x="81.60" y="339.50" font-size="17.8" text-anchor="end" font-weight="normal" fill="#000" >1</text>
<text x="82.45" y="581.40" font-size="16.5" text-anchor="middle" font-weight="normal" fill="#000" textLength="17.60" lengthAdjust="spacingAndGlyphs" >32</text>
<text x="122.94" y="581.40" font-size="16.5" text-anchor="middle" font-weight="normal" fill="#000" textLength="17.60" lengthAdjust="spacingAndGlyphs" >37</text>
<text x="163.43" y="581.40" font-size="16.5" text-anchor="middle" font-weight="normal" fill="#000" textLength="17.60" lengthAdjust="spacingAndGlyphs" >42</text>
<text x="203.93" y="581.40" font-size="16.5" text-anchor="middle" font-weight="normal" fill="#000" textLength="17.60" lengthAdjust="spacingAndGlyphs" >47</text>
<text x="244.42" y="581.40" font-size="16.5" text-anchor="middle" font-weight="normal" fill="#000" textLength="17.60" lengthAdjust="spacingAndGlyphs" >52</text>
<text x="284.91" y="581.40" font-size="16.5" text-anchor="middle" font-weight="normal" fill="#000" textLength="17.60" lengthAdjust="spacingAndGlyphs" >57</text>
<text x="325.40" y="581.40" font-size="16.5" text-anchor="middle" font-weight="normal" fill="#000" textLength="17.60" lengthAdjust="spacingAndGlyphs" >62</text>
<text x="204.70" y="603.20" font-size="21.6" text-anchor="middle" font-weight="normal" fill="#000" textLength="158.60" lengthAdjust="spacingAndGlyphs" >Temperature (<tspan font-size="13" dy="-7.3">o</tspan><tspan dy="7.3">C)</tspan></text>
<text transform="translate(43.00,0) rotate(-90)" font-size="22" font-weight="normal" ><tspan x="-575.30" y="0" textLength="89.10" lengthAdjust="spacingAndGlyphs">Opening</tspan><tspan x="-478.80" y="0" textLength="109.40" lengthAdjust="spacingAndGlyphs">Probability</tspan><tspan x="-364.90" y="0" textLength="20.50" lengthAdjust="spacingAndGlyphs">(P</tspan><tspan x="-343.20" y="9.5" font-size="13.5" textLength="9.20" lengthAdjust="spacingAndGlyphs">0</tspan><tspan x="-334.20" y="0" textLength="8.20" lengthAdjust="spacingAndGlyphs">)</tspan></text>
<text x="0.40" y="338.20" font-size="27.3" text-anchor="start" font-weight="bold" fill="#000" textLength="26.00" lengthAdjust="spacingAndGlyphs" >(c)</text>
<path d="M430.1 333.1 V558.0 H675.8000000000001" fill="none" stroke="#111" stroke-width="1.5"/>
<line x1="424.6" y1="558.00" x2="430.1" y2="558.00" stroke="#111" stroke-width="1.3"/>
<line x1="427.1" y1="535.58" x2="430.1" y2="535.58" stroke="#111" stroke-width="1.3"/>
<line x1="424.6" y1="513.16" x2="430.1" y2="513.16" stroke="#111" stroke-width="1.3"/>
<line x1="427.1" y1="490.74" x2="430.1" y2="490.74" stroke="#111" stroke-width="1.3"/>
<line x1="424.6" y1="468.32" x2="430.1" y2="468.32" stroke="#111" stroke-width="1.3"/>
<line x1="427.1" y1="445.90" x2="430.1" y2="445.90" stroke="#111" stroke-width="1.3"/>
<line x1="424.6" y1="423.48" x2="430.1" y2="423.48" stroke="#111" stroke-width="1.3"/>
<line x1="427.1" y1="401.06" x2="430.1" y2="401.06" stroke="#111" stroke-width="1.3"/>
<line x1="424.6" y1="378.64" x2="430.1" y2="378.64" stroke="#111" stroke-width="1.3"/>
<line x1="427.1" y1="356.22" x2="430.1" y2="356.22" stroke="#111" stroke-width="1.3"/>
<line x1="424.6" y1="333.80" x2="430.1" y2="333.80" stroke="#111" stroke-width="1.3"/>
<line x1="430.10" y1="558.0" x2="430.10" y2="563.0" stroke="#111" stroke-width="1.3"/>
<line x1="454.60" y1="558.0" x2="454.60" y2="560.8" stroke="#111" stroke-width="1.3"/>
<line x1="479.10" y1="558.0" x2="479.10" y2="563.0" stroke="#111" stroke-width="1.3"/>
<line x1="503.60" y1="558.0" x2="503.60" y2="560.8" stroke="#111" stroke-width="1.3"/>
<line x1="528.10" y1="558.0" x2="528.10" y2="563.0" stroke="#111" stroke-width="1.3"/>
<line x1="552.60" y1="558.0" x2="552.60" y2="560.8" stroke="#111" stroke-width="1.3"/>
<line x1="577.10" y1="558.0" x2="577.10" y2="563.0" stroke="#111" stroke-width="1.3"/>
<line x1="601.60" y1="558.0" x2="601.60" y2="560.8" stroke="#111" stroke-width="1.3"/>
<line x1="626.10" y1="558.0" x2="626.10" y2="563.0" stroke="#111" stroke-width="1.3"/>
<line x1="650.60" y1="558.0" x2="650.60" y2="560.8" stroke="#111" stroke-width="1.3"/>
<line x1="675.10" y1="558.0" x2="675.10" y2="563.0" stroke="#111" stroke-width="1.3"/>
<path d="M430.10 552.60 L432.55 551.58 L435.00 550.56 L437.45 549.52 L439.90 548.47 L442.35 547.41 L444.80 546.34 L447.25 545.25 L449.70 544.15 L452.15 543.04 L454.60 541.92 L457.05 540.78 L459.50 539.63 L461.95 538.46 L464.40 537.28 L466.85 536.09 L469.30 534.89 L471.75 533.67 L474.20 532.44 L476.65 531.19 L479.10 529.93 L481.55 528.65 L484.00 527.36 L486.45 526.06 L488.90 524.74 L491.35 523.40 L493.80 522.05 L496.25 520.69 L498.70 519.31 L501.15 517.91 L503.60 516.50 L506.05 515.07 L508.50 513.63 L510.95 512.17 L513.40 510.70 L515.85 509.20 L518.30 507.69 L520.75 506.17 L523.20 504.63 L525.65 503.07 L528.10 501.49 L530.55 499.90 L533.00 498.29 L535.45 496.66 L537.90 495.02 L540.35 493.35 L542.80 491.67 L545.25 489.97 L547.70 488.25 L550.15 486.52 L552.60 484.77 L555.05 482.99 L557.50 481.20 L559.95 479.39 L562.40 477.56 L564.85 475.72 L567.30 473.85 L569.75 471.96 L572.20 470.06 L574.65 468.13 L577.10 466.19 L579.55 464.22 L582.00 462.24 L584.45 460.24 L586.90 458.21 L589.35 456.17 L591.80 454.10 L594.25 452.02 L596.70 449.91 L599.15 447.79 L601.60 445.64 L604.05 443.48 L606.50 441.29 L608.95 439.08 L611.40 436.85 L613.85 434.60 L616.30 432.33 L618.75 430.04 L621.20 427.73 L623.65 425.40 L626.10 423.04 L628.55 420.66 L631.00 418.27 L633.45 415.85 L635.90 413.41 L638.35 410.95 L640.80 408.46 L643.25 405.96 L645.70 403.43 L648.15 400.89 L650.60 398.32 L653.05 395.73 L655.50 393.12 L657.95 390.49 L660.40 387.83 L662.85 385.16 L665.30 382.46 L667.75 379.75 L670.20 377.01 L672.65 374.25 L675.10 371.47" stroke="#0a0ae0" stroke-width="3" fill="none"/>
<text x="423.10" y="563.70" font-size="17.4" text-anchor="end" font-weight="normal" fill="#000" textLength="30.80" lengthAdjust="spacingAndGlyphs" >0.10</text>
<text x="423.10" y="518.86" font-size="17.4" text-anchor="end" font-weight="normal" fill="#000" textLength="30.80" lengthAdjust="spacingAndGlyphs" >0.15</text>
<text x="423.10" y="474.02" font-size="17.4" text-anchor="end" font-weight="normal" fill="#000" textLength="30.80" lengthAdjust="spacingAndGlyphs" >0.20</text>
<text x="423.10" y="429.18" font-size="17.4" text-anchor="end" font-weight="normal" fill="#000" textLength="30.80" lengthAdjust="spacingAndGlyphs" >0.25</text>
<text x="423.10" y="384.34" font-size="17.4" text-anchor="end" font-weight="normal" fill="#000" textLength="30.80" lengthAdjust="spacingAndGlyphs" >0.30</text>
<text x="423.10" y="339.50" font-size="17.4" text-anchor="end" font-weight="normal" fill="#000" textLength="30.80" lengthAdjust="spacingAndGlyphs" >0.35</text>
<text x="429.70" y="579.00" font-size="15.8" text-anchor="middle" font-weight="normal" fill="#000" textLength="17.00" lengthAdjust="spacingAndGlyphs" >37</text>
<text x="478.70" y="579.00" font-size="15.8" text-anchor="middle" font-weight="normal" fill="#000" textLength="17.00" lengthAdjust="spacingAndGlyphs" >38</text>
<text x="527.70" y="579.00" font-size="15.8" text-anchor="middle" font-weight="normal" fill="#000" textLength="17.00" lengthAdjust="spacingAndGlyphs" >39</text>
<text x="576.70" y="579.00" font-size="15.8" text-anchor="middle" font-weight="normal" fill="#000" textLength="17.00" lengthAdjust="spacingAndGlyphs" >40</text>
<text x="625.70" y="579.00" font-size="15.8" text-anchor="middle" font-weight="normal" fill="#000" textLength="17.00" lengthAdjust="spacingAndGlyphs" >41</text>
<text x="674.70" y="579.00" font-size="15.8" text-anchor="middle" font-weight="normal" fill="#000" textLength="17.00" lengthAdjust="spacingAndGlyphs" >42</text>
<text x="552.00" y="604.00" font-size="18.4" text-anchor="middle" font-weight="normal" fill="#000" textLength="129.60" lengthAdjust="spacingAndGlyphs" >Temperature (<tspan font-size="11" dy="-6.5">o</tspan><tspan dy="6.5">C)</tspan></text>
<text transform="translate(380.20,0) rotate(-90)" font-size="17.2" font-weight="normal" ><tspan x="-546.80" y="0" textLength="70.30" lengthAdjust="spacingAndGlyphs">Opening</tspan><tspan x="-470.90" y="0" textLength="90.90" lengthAdjust="spacingAndGlyphs">probability</tspan><tspan x="-375.90" y="0" textLength="18.40" lengthAdjust="spacingAndGlyphs">(P</tspan><tspan x="-356.60" y="4.6" font-size="8.5" textLength="6.30" lengthAdjust="spacingAndGlyphs">0</tspan><tspan x="-350.30" y="0" textLength="6.90" lengthAdjust="spacingAndGlyphs">)</tspan></text>
<text x="334.90" y="331.60" font-size="26.5" text-anchor="start" font-weight="bold" fill="#000" textLength="29.80" lengthAdjust="spacingAndGlyphs" >(d)</text>
</svg>
</body></html>
